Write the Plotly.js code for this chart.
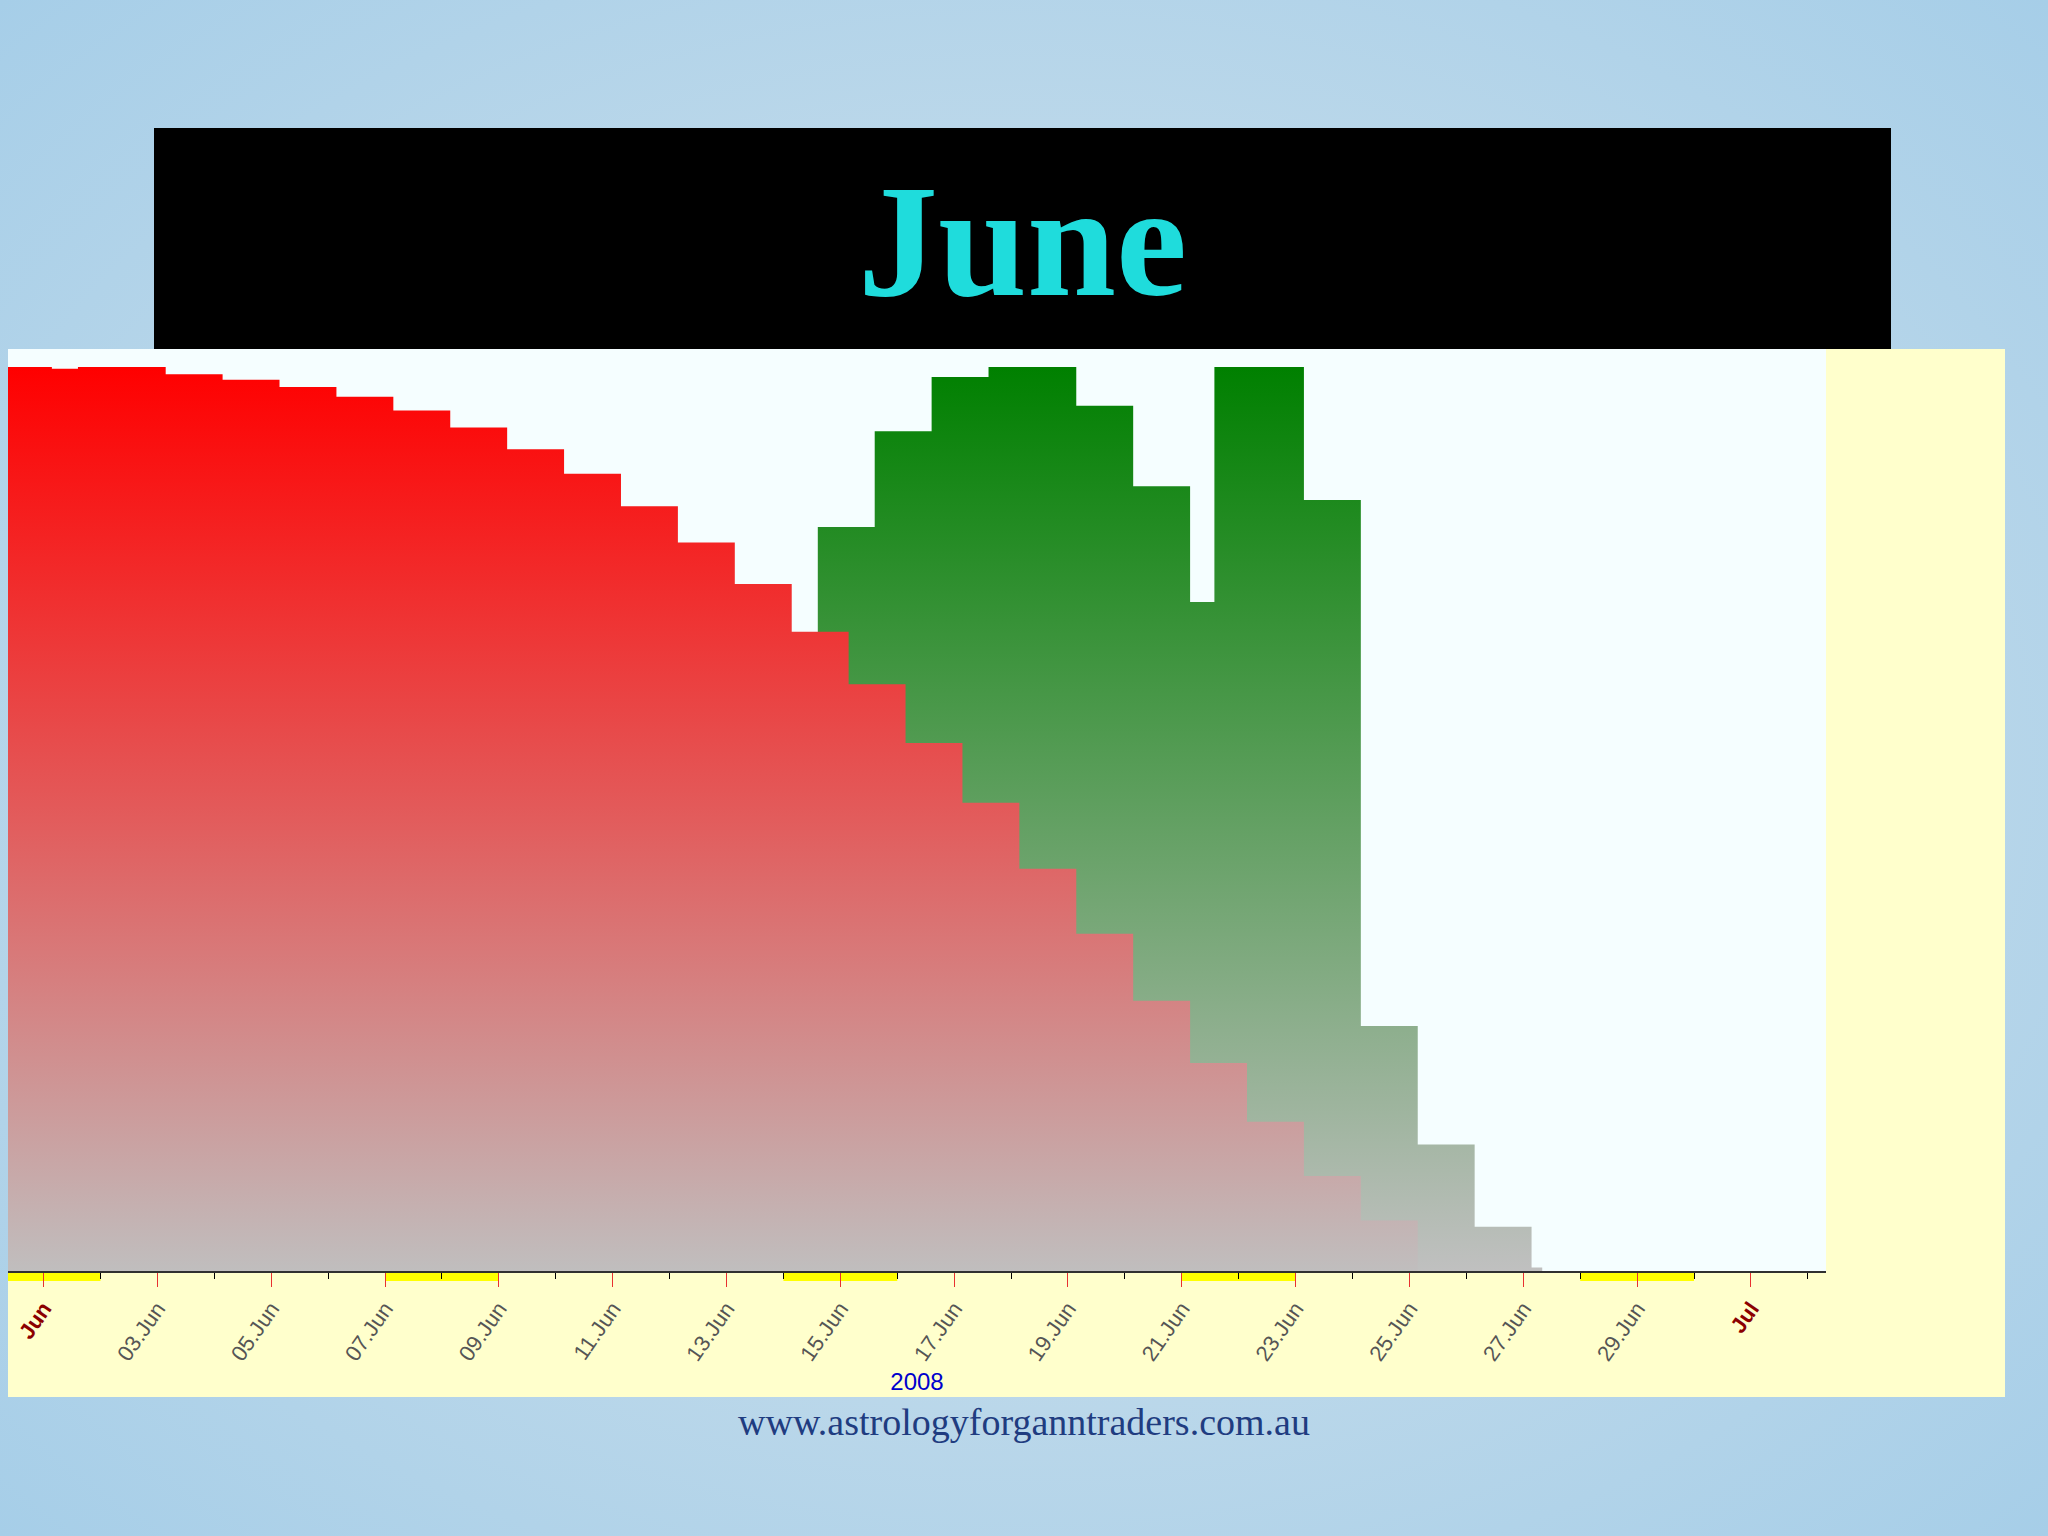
<!DOCTYPE html>
<html>
<head>
<meta charset="utf-8">
<script src="https://cdn.plot.ly/plotly-3.0.1.min.js"></script>
<style>
  html, body { margin: 0; padding: 0; }
  body {
    width: 2048px; height: 1536px; overflow: hidden;
    background: radial-gradient(ellipse at 50% 50%, #C9DFEC 0%, #BCD8EA 55%, #A6CEE8 100%);
  }
  #chart { width: 2048px; height: 1536px; }
</style>
</head>
<body>
<div id="chart"></div>
<script>
// ---- Data (values are relative heights, max = 100) ----
const redTimes = [
  '2008-05-31 03:30', '2008-06-01 03:30', '2008-06-01 14:30', '2008-06-03 03:30',
  '2008-06-04 03:30', '2008-06-05 03:30', '2008-06-06 03:30', '2008-06-07 03:30',
  '2008-06-08 03:30', '2008-06-09 03:30', '2008-06-10 03:30', '2008-06-11 03:30',
  '2008-06-12 03:30', '2008-06-13 03:30', '2008-06-14 03:30', '2008-06-15 03:30',
  '2008-06-16 03:30', '2008-06-17 03:30', '2008-06-18 03:30', '2008-06-19 03:30',
  '2008-06-20 03:30', '2008-06-21 03:30', '2008-06-22 03:30', '2008-06-23 03:30',
  '2008-06-24 03:30', '2008-06-25 03:30'
];
const redValues = [
  100.0, 99.8, 100.0, 99.2,
  98.6, 97.8, 96.7, 95.2,
  93.3, 90.9, 88.2, 84.6,
  80.6, 76.0, 70.7, 64.9,
  58.4, 51.8, 44.5, 37.3,
  29.9, 23.0, 16.5, 10.5,
  5.6, 0
];

const greenTimes = [
  '2008-06-14 14:30', '2008-06-15 14:30', '2008-06-16 14:30', '2008-06-17 14:30',
  '2008-06-19 03:30', '2008-06-20 03:30', '2008-06-21 03:30', '2008-06-21 13:45',
  '2008-06-23 03:30', '2008-06-24 03:30', '2008-06-25 03:30', '2008-06-26 03:30',
  '2008-06-27 03:30', '2008-06-27 08:00'
];
const greenValues = [
  82.3, 92.9, 98.9, 100.0,
  95.7, 86.8, 74.0, 100.0,
  85.3, 27.1, 14.0, 4.9,
  0.4, 0
];

const tickDates = [
  '2008-06-01', '2008-06-03', '2008-06-05', '2008-06-07', '2008-06-09', '2008-06-11',
  '2008-06-13', '2008-06-15', '2008-06-17', '2008-06-19', '2008-06-21', '2008-06-23',
  '2008-06-25', '2008-06-27', '2008-06-29', '2008-07-01'
];
const tickLabels = [
  'Jun', '03.Jun', '05.Jun', '07.Jun', '09.Jun', '11.Jun',
  '13.Jun', '15.Jun', '17.Jun', '19.Jun', '21.Jun', '23.Jun',
  '25.Jun', '27.Jun', '29.Jun', 'Jul'
];
const yearLabel = '2008';
const titleText = 'June';
const footerText = 'www.astrologyforganntraders.com.au';
const xRange = ['2008-05-31 09:00', '2008-07-02 07:40'];

// ---- Traces ----
const green = {
  type: 'scatter', mode: 'lines', x: greenTimes, y: greenValues,
  line: { shape: 'hv', width: 0, color: 'rgba(0,0,0,0)' },
  fill: 'tozeroy',
  fillgradient: { type: 'vertical', start: 0, stop: 100,
    colorscale: [[0, 'rgb(192,192,192)'], [0.5, 'rgb(98,160,98)'], [1, 'rgb(0,128,0)']] },
  hoverinfo: 'skip', showlegend: false
};
const red = {
  type: 'scatter', mode: 'lines', x: redTimes, y: redValues,
  line: { shape: 'hv', width: 0, color: 'rgba(0,0,0,0)' },
  fill: 'tozeroy',
  fillgradient: { type: 'vertical', start: 0, stop: 100,
    colorscale: [[0, 'rgb(192,190,190)'], [0.5, 'rgb(226,92,92)'], [1, 'rgb(255,0,0)']] },
  hoverinfo: 'skip', showlegend: false
};

// ---- Layout geometry ----
const W = 2048, H = 1536;
const plotL = 8, plotR = 1826, plotT = 349, plotB = 1271;
const pw = plotR - plotL, ph = plotB - plotT;
const px = v => (v - plotL) / pw;
const py = v => (plotB - v) / ph;

const ticktext = tickLabels.map(t => t.indexOf('.') < 0
  ? '<b><span style="color:#8B0000">' + t + '</span></b>' : t);

const shapes = [
  // black title banner
  { type: 'rect', xref: 'paper', yref: 'paper', layer: 'below',
    x0: px(154), x1: px(1891), y0: py(349), y1: py(128),
    fillcolor: '#000000', line: { width: 0 } },
  // light-yellow chart panel (right strip and bottom strip around plot area)
  { type: 'rect', xref: 'paper', yref: 'paper', layer: 'below',
    x0: 1, x1: px(2005), y0: py(1397), y1: 1,
    fillcolor: '#FFFFCC', line: { width: 0 } },
  { type: 'rect', xref: 'paper', yref: 'paper', layer: 'below',
    x0: 0, x1: 1, y0: py(1397), y1: 0,
    fillcolor: '#FFFFCC', line: { width: 0 } }
];

// weekend highlight bands under the axis (Saturday & Sunday)
(function () {
  const start = new Date(xRange[0].replace(' ', 'T') + 'Z').getTime();
  const end = new Date(xRange[1].replace(' ', 'T') + 'Z').getTime();
  const day = 86400000;
  let d = Math.floor(start / day) * day - day;
  const fmt = ms => new Date(ms).toISOString().replace('T', ' ').slice(0, 19);
  for (; d < end; d += day) {
    if (new Date(d).getUTCDay() === 6) {
      const a = Math.max(d, start), b = Math.min(d + 2 * day, end);
      if (b > a) shapes.push({ type: 'rect', xref: 'x', yref: 'paper', layer: 'below',
        x0: fmt(a), x1: fmt(b), y0: py(plotB + 10), y1: py(plotB),
        fillcolor: '#FFFF00', line: { width: 0 } });
    }
  }
})();

const layout = {
  width: W, height: H,
  margin: { l: plotL, r: W - plotR, t: plotT, b: H - plotB, pad: 0 },
  paper_bgcolor: 'rgba(0,0,0,0)',
  plot_bgcolor: '#F5FEFF',
  showlegend: false,
  xaxis: {
    type: 'date', range: xRange, fixedrange: true,
    tickmode: 'array', tickvals: tickDates, ticktext: ticktext,
    ticks: 'outside', ticklen: 14, tickwidth: 1, tickcolor: '#E83030',
    tickangle: -55,
    tickfont: { family: 'Liberation Sans, Arial, sans-serif', size: 22, color: '#555555' },
    showline: true, linecolor: '#303030', linewidth: 2,
    showgrid: false, zeroline: false,
    minor: { tickmode: 'linear', tick0: '2008-06-01', dtick: 86400000,
      ticks: 'outside', ticklen: 6, tickwidth: 1, tickcolor: '#000000', showgrid: false },
    title: { text: yearLabel, standoff: 9,
      font: { family: 'Liberation Sans, Arial, sans-serif', size: 24, color: '#0000CC' } }
  },
  yaxis: {
    range: [0, (plotB - plotT) / 904 * 100], fixedrange: true,
    showgrid: false, zeroline: false, showticklabels: false, showline: false, ticks: ''
  },
  shapes: shapes,
  annotations: [
    { xref: 'paper', yref: 'paper', x: px(1022), y: py(241), xanchor: 'center', yanchor: 'middle',
      showarrow: false, text: '<b>' + titleText + '</b>',
      font: { family: 'Liberation Serif, DejaVu Serif, serif', size: 160, color: '#1FDCDC' } },
    { xref: 'paper', yref: 'paper', x: px(1024), y: py(1422), xanchor: 'center', yanchor: 'middle',
      showarrow: false, text: footerText,
      font: { family: 'Liberation Serif, DejaVu Serif, serif', size: 38, color: '#1F3C80' } }
  ]
};

Plotly.newPlot('chart', [green, red], layout, { displayModeBar: false, staticPlot: true });
</script>
</body>
</html>
